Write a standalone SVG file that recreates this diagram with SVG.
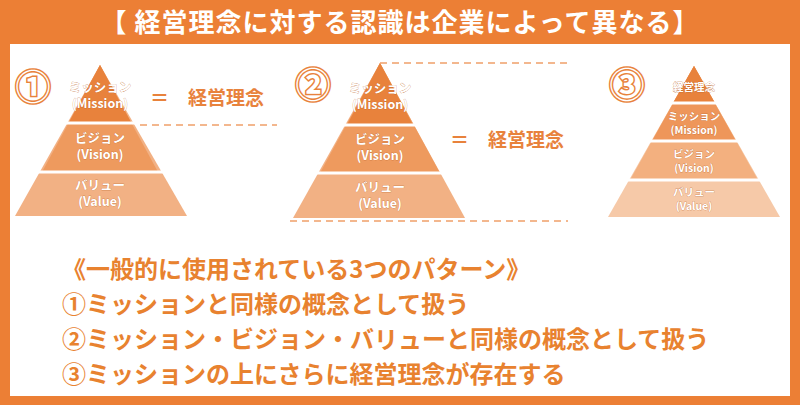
<svg xmlns="http://www.w3.org/2000/svg" width="800" height="405" viewBox="0 0 800 405">
<style>
.t{font-family:"Noto Sans CJK JP","Noto Sans",sans-serif;font-weight:bold}
.pl{font-size:12.5px;fill:#fff;text-anchor:middle;stroke:#b85d22;stroke-width:0.4;paint-order:stroke}
.s{font-size:10.5px}
.num{font-size:35px;fill:#fff;stroke:#e8823c;stroke-width:3;paint-order:stroke;text-anchor:middle}
.eq{font-size:19px;fill:#e8823c}
.body{font-size:24px;fill:#e8822f}
.dash{stroke:#f0a06a;stroke-width:1.5;stroke-dasharray:7 5;fill:none}
.sep{stroke:#fff;stroke-width:3}
</style>
<rect width="800" height="405" fill="#ec7f35"/>
<rect x="10" y="44" width="780" height="352" fill="#fff"/>
<text class="t" x="400" y="32" font-size="26" fill="#fff" text-anchor="middle" letter-spacing="1">【 経営理念に対する認識は企業によって異なる】</text>
<g id="p1">
<polygon points="100,65 15,216 187,216" fill="#f2b184"/>
<polygon points="100,65 42,172 158,172" fill="#ee9a5e"/>
<polygon points="100,65 68,124 132,124" fill="#e8823c"/>
<line class="sep" x1="40" y1="123" x2="165" y2="123"/>
<line class="sep" x1="20" y1="172" x2="185" y2="172"/>
<text class="t num" x="33" y="100">①</text>
<text class="t pl" x="100" y="92">ミッション</text><text class="t pl" x="100" y="108">(Mission)</text>
<text class="t pl" x="100" y="143">ビジョン</text><text class="t pl" x="100" y="159">(Vision)</text>
<text class="t pl" x="100" y="190">バリュー</text><text class="t pl" x="100" y="206">(Value)</text>
<text class="t eq" x="150" y="105">＝　経営理念</text>
</g>
<g id="p2">
<polygon points="380,63 293,218 465,218" fill="#f2b184"/>
<polygon points="380,63 320,173 440,173" fill="#ee9a5e"/>
<polygon points="380,63 347,125 413,125" fill="#e8823c"/>
<line class="sep" x1="320" y1="125" x2="445" y2="125"/>
<line class="sep" x1="300" y1="173" x2="465" y2="173"/>
<text class="t num" x="313" y="98">②</text>
<text class="t pl" x="380" y="93">ミッション</text><text class="t pl" x="380" y="109">(Mission)</text>
<text class="t pl" x="380" y="144">ビジョン</text><text class="t pl" x="380" y="160">(Vision)</text>
<text class="t pl" x="380" y="192">バリュー</text><text class="t pl" x="380" y="208">(Value)</text>
<text class="t eq" x="450" y="147">＝　経営理念</text>
</g>
<g id="p3">
<polygon points="694,66 608,217 780,217" fill="#f6c9a8"/>
<polygon points="694,66 630,180 758,180" fill="#f3b07f"/>
<polygon points="694,66 652,141 736,141" fill="#ee965a"/>
<polygon points="694,66 673,103 715,103" fill="#e8823c"/>
<line class="sep" x1="660" y1="103" x2="730" y2="103"/>
<line class="sep" x1="640" y1="141" x2="750" y2="141"/>
<line class="sep" x1="620" y1="180" x2="770" y2="180"/>
<text class="t num" x="627" y="98">③</text>
<text class="t pl s" x="694" y="91">経営理念</text>
<text class="t pl s" x="694" y="120">ミッション</text><text class="t pl s" x="694" y="134">(Mission)</text>
<text class="t pl s" x="694" y="158">ビジョン</text><text class="t pl s" x="694" y="172">(Vision)</text>
<text class="t pl s" x="694" y="196">バリュー</text><text class="t pl s" x="694" y="210">(Value)</text>
</g>
<g id="connectors">
<line class="dash" x1="140" y1="125" x2="277" y2="125"/>
<line class="dash" x1="380" y1="63" x2="568" y2="63"/>
<line class="dash" x1="290" y1="221" x2="568" y2="221"/>
</g>
<text class="t body" x="62" y="278">《一般的に使用されている3つのパターン》</text>
<text class="t body" x="62" y="313">①ミッションと同様の概念として扱う</text>
<text class="t body" x="62" y="348">②ミッション・ビジョン・バリューと同様の概念として扱う</text>
<text class="t body" x="62" y="383">③ミッションの上にさらに経営理念が存在する</text>
</svg>
